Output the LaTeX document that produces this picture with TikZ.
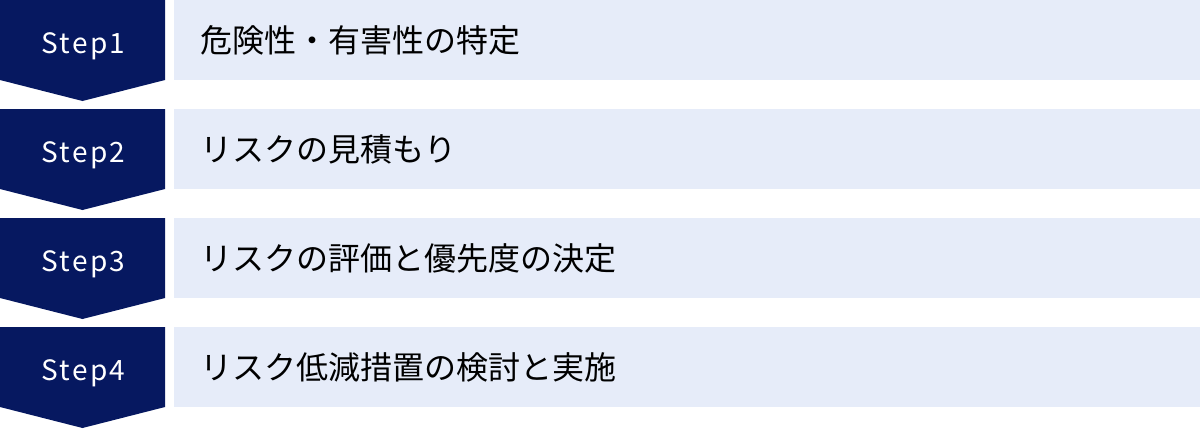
\documentclass[tikz,border=0pt]{standalone}
\usepackage{fontspec}
\setmainfont{Noto Sans CJK JP}
\newfontfamily\stepfont[LetterSpace=8]{Noto Sans CJK JP}
\definecolor{navy}{RGB}{6,24,96}
\definecolor{paleblue}{RGB}{230,236,249}

\begin{document}
\begin{tikzpicture}[x=1pt, y=-1pt,
stepnum/.style = {text=white, anchor=base, font=\stepfont\fontsize{28}{28}\selectfont},
task/.style = {text=black, anchor=base west, font=\fontsize{32}{32}\selectfont}]

\useasboundingbox (0,0) rectangle (1200,429);
% one row per step: arrow box on the left, task bar on the right
\foreach \i/\t [evaluate=\i as \y using (\i-1)*109] in {1/危険性・有害性の特定, 2/リスクの見積もり, 3/リスクの評価と優先度の決定, 4/リスク低減措置の検討と実施} {
\fill [navy] (0,\y) -- ++(165,0) -- ++(0,80) -- ++(-82.5,21) -- ++(-82.5,-21) -- cycle;
\fill [paleblue] (174,\y) rectangle ++(1026,80);
\node [stepnum] (step\i) at (83.5,\y+53) {Step\i};
\node [task] (task\i) at (197,\y+52) {\t};
}
\end{tikzpicture}
\end{document}
